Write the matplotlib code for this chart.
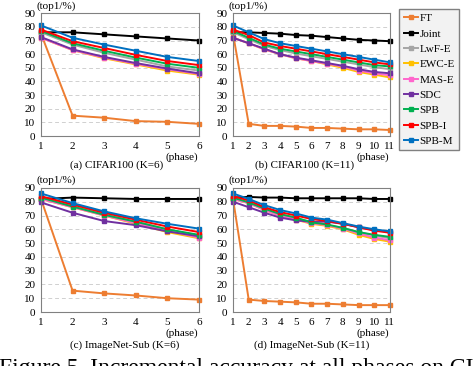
"""
incremental accuracy curves, CIFAR100 and ImageNet-Sub, K=6 and K=11
"""
import matplotlib
matplotlib.use("Agg")
import matplotlib.pyplot as plt

methods = ["FT", "Joint", "LwF-E", "EWC-E", "MAS-E", "SDC", "SPB", "SPB-I", "SPB-M"]
colors = ["#ED7D31", "#000000", "#A5A5A5", "#FFC000", "#FF66CC",
          "#7030A0", "#00B050", "#FF0000", "#0070C0"]

# CIFAR100, K=6
cifar_k6 = {
    "FT":    [75, 15, 13.5, 11, 10.5, 9],
    "Joint": [76, 76, 74.5, 73, 71.5, 70],
    "LwF-E": [76, 67, 61, 56, 51, 48],
    "EWC-E": [72, 63, 57, 52.5, 48, 45],
    "MAS-E": [72, 63, 57.5, 53, 49, 45.5],
    "SDC":   [72.5, 63.5, 58, 53.5, 49.5, 46],
    "SPB":   [77, 68, 62.5, 57.5, 53, 50],
    "SPB-I": [78, 69.5, 64.5, 59.5, 55, 52],
    "SPB-M": [81, 72, 67, 62.5, 58, 55],
}
# CIFAR100, K=11
cifar_k11 = {
    "FT":    [75, 9, 7.5, 7.5, 7, 6, 6, 5.5, 5, 5, 4.5],
    "Joint": [76, 76, 75.5, 75, 74, 73.5, 72.5, 71.5, 70.5, 70, 69.5],
    "LwF-E": [76, 71, 66, 63, 60.5, 58.5, 56.5, 54.5, 52.5, 50.5, 49],
    "EWC-E": [72, 68, 63.5, 60, 57, 55, 52.5, 50, 47, 45, 43],
    "MAS-E": [72, 68, 63.5, 60, 57, 55, 53, 51, 48, 46, 44.5],
    "SDC":   [72, 68, 64, 60, 57.5, 55.5, 53.5, 51.5, 49, 47, 46],
    "SPB":   [77, 72, 67, 64, 62, 60, 58, 56, 54, 52, 51],
    "SPB-I": [78, 74, 68.5, 66, 64, 62, 60, 58, 56, 54, 52.5],
    "SPB-M": [81, 76, 71, 68, 66, 64, 62, 60, 58, 56, 54],
}
# ImageNet-Sub, K=6
inet_k6 = {
    "FT":    [82, 15.5, 13.5, 12, 10, 9],
    "Joint": [82, 83, 82.5, 82, 82, 82],
    "LwF-E": [83, 77, 71, 65.5, 60, 55],
    "EWC-E": [82, 76, 70, 64, 58, 53.5],
    "MAS-E": [82, 76, 70, 64.5, 59, 54],
    "SDC":   [79.5, 72, 66, 63, 58.5, 55],
    "SPB":   [83, 76.5, 70.5, 65.5, 60, 56],
    "SPB-I": [84, 78, 72, 67, 62, 58],
    "SPB-M": [86, 79, 73, 68, 64, 60.5],
}
# ImageNet-Sub, K=11
inet_k11 = {
    "FT":    [82, 9, 8, 7.5, 7, 6, 6, 5.5, 5, 5, 5],
    "Joint": [83, 83.5, 83, 83, 82.5, 82.5, 82.5, 82.5, 82.5, 82, 82],
    "LwF-E": [83, 79.5, 75, 71, 68, 65.5, 63, 61, 58, 55.5, 53.5],
    "EWC-E": [82, 79, 74, 70, 67, 64, 62.5, 60, 56, 53, 51],
    "MAS-E": [82, 79, 74, 70, 67, 64.5, 63, 60.5, 57, 54, 52],
    "SDC":   [80, 76, 72, 68.5, 66.5, 65.5, 65.5, 64, 61.5, 59.5, 58],
    "SPB":   [83, 79.5, 75, 71, 68.5, 65, 63.5, 61, 58, 56, 54.5],
    "SPB-I": [84, 81, 76, 72.5, 70, 67.5, 66, 64, 61.5, 59, 57.5],
    "SPB-M": [86, 82, 77.5, 74, 71.5, 68.5, 67, 64.5, 62, 60, 58.5],
}
captions = ["(a) CIFAR100 (K=6)", "(b) CIFAR100 (K=11)",
            "(c) ImageNet-Sub (K=6)", "(d) ImageNet-Sub (K=11)"]
yticks = [0, 10, 20, 30, 40, 50, 60, 70, 80, 90]

plt.rcParams["font.family"] = ["Liberation Serif", "DejaVu Serif"]
fig = plt.figure(figsize=(4.74, 3.66), dpi=100)

rects = [[0.0865, 0.628, 0.333, 0.336], [0.4916, 0.628, 0.331, 0.336],
         [0.0865, 0.1475, 0.333, 0.339], [0.4916, 0.1475, 0.331, 0.339]]
panels = [cifar_k6, cifar_k11, inet_k6, inet_k11]
cap_pos = [(0.247, 0.549), (0.643, 0.549), (0.264, 0.057), (0.658, 0.057)]

for rect, data, cap, cp in zip(rects, panels, captions, cap_pos):
    ax = fig.add_axes(rect)
    n = len(data["FT"])
    x = list(range(1, n + 1))
    for m, c in zip(methods, colors):
        ax.plot(x, data[m], "-s", color=c, lw=1.4, ms=2.6, clip_on=False, label=m)
    ax.set_xlim(1, n)
    ax.set_ylim(0, 90)
    ax.set_xticks(x)
    ax.set_yticks(yticks)
    ax.tick_params(labelsize=8, length=0, pad=4)
    ax.grid(True, axis="y", color="#D0D0D0", ls=(0, (4, 3)), lw=0.7)
    for s in ax.spines.values():
        s.set_color("#808080")
        s.set_linewidth(0.8)
    ax.text(-0.03, 1.02, "(top1/%)", transform=ax.transAxes, fontsize=8,
            ha="left", va="bottom")
    ax.text(0.995, -0.13, "(phase)", transform=ax.transAxes, fontsize=8,
            ha="right", va="top")
    fig.text(cp[0], cp[1], cap, fontsize=8, ha="center", va="center")
    if data is cifar_k11:
        handles, labels = ax.get_legend_handles_labels()

fig.legend(handles, labels, loc="upper left", bbox_to_anchor=(0.842, 0.975),
           fontsize=8, frameon=True, fancybox=False, edgecolor="#808080",
           facecolor="#F2F2F2", framealpha=1, handlelength=1.3,
           handletextpad=0.15, labelspacing=0.5, borderpad=0.4,
           borderaxespad=0)

# figure caption, cut off by the bottom edge as in the source page
fig.text(-0.003, -0.022, "Figure 5. Incremental accuracy at all phases on CIFAR100",
         fontsize=17, ha="left", va="baseline")

fig.savefig("out.png", dpi=100)
